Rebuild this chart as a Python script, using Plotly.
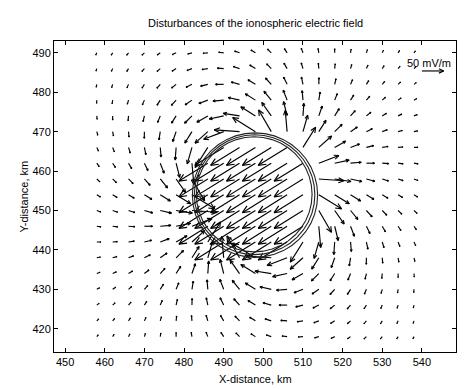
import numpy as np
import plotly.graph_objects as go

# ---- grid of observation points (km) ----
X_KM = [458, 462, 466, 470, 474, 478, 482, 486, 490, 494, 498,
        502, 506, 510, 514, 518, 522, 526, 530, 534, 538]
Y_KM = [490, 486, 482, 478, 474, 470, 466, 462, 458, 454,
        450, 446, 442, 438, 434, 430, 426, 422, 418]

# ---- field direction (degrees from +x), rows follow Y_KM, columns X_KM ----
I = -148  # uniform field inside the disturbed region
ANGLE_DEG = [
    [-116, -122, -129, -136, -145, -154, -164, -175, 173, 161, 148, 135, 123, 111, 100, 90, 81, 72, 65, 58, 52],
    [-109, -115, -122, -130, -138, -148, -159, -171, 176, 162, 148, 134, 120, 107, 95, 84, 74, 66, 58, 51, 45],
    [-102, -108, -114, -122, -131, -141, -153, -166, 180, 164, 148, 132, 116, 102, 89, 77, 67, 58, 50, 44, 38],
    [-94, -99, -106, -113, -122, -132, -145, -159, -175, 167, 148, 129, 111, 95, 81, 68, 58, 49, 42, 35, 30],
    [-85, -90, -96, -103, -112, -122, -135, -150, -168, 171, 148, 125, 104, 86, 71, 58, 48, 39, 32, 26, 21],
    [-76, -80, -85, -91, -99, -109, -122, -138, -159, 176, 148, 120, 95, 74, 58, 45, 35, 27, 21, 16, 12],
    [-65, -69, -73, -78, -85, -94, -106, -122, I, I, I, I, I, 58, 42, 30, 21, 14, 9, 5, 1],
    [-55, -57, -60, -64, -69, -76, -85, I, I, I, I, I, I, I, 21, 12, 5, 0, -4, -7, -9],
    [-43, -45, -46, -48, -51, -55, -60, I, I, I, I, I, I, I, -4, -9, -13, -16, -18, -19, -21],
    [-32, -32, -32, -32, -32, -32, -32, I, I, I, I, I, I, I, -32, -32, -32, -32, -32, -32, -32],
    [-21, -19, -18, -16, -13, -9, -4, I, I, I, I, I, I, I, -60, -55, -51, -48, -46, -45, -43],
    [-9, -7, -4, 0, 5, 12, 21, I, I, I, I, I, I, I, -85, -76, -69, -64, -60, -57, -55],
    [1, 5, 9, 14, 21, 30, 42, 58, I, I, I, I, I, -122, -106, -94, -85, -78, -73, -69, -65],
    [12, 16, 21, 27, 35, 45, 58, 74, 95, 120, 148, 176, -159, -138, -122, -109, -99, -91, -85, -80, -76],
    [21, 26, 32, 39, 48, 58, 71, 86, 104, 125, 148, 171, -168, -150, -135, -122, -112, -103, -96, -90, -85],
    [30, 35, 42, 49, 58, 68, 81, 95, 111, 129, 148, 167, -175, -159, -145, -132, -122, -113, -106, -99, -94],
    [38, 44, 50, 58, 67, 77, 89, 102, 116, 132, 148, 164, 180, -166, -153, -141, -131, -122, -114, -108, -102],
    [45, 51, 58, 66, 74, 84, 95, 107, 120, 134, 148, 162, 176, -171, -159, -148, -138, -130, -122, -115, -109],
    [52, 58, 65, 72, 81, 90, 100, 111, 123, 135, 148, 161, 173, -175, -164, -154, -145, -136, -129, -122, -116],
]

# ---- field magnitude (mV/m) ----
M = 78  # inside the disturbed region
FIELD_MV = [
    [5.4, 6.1, 6.8, 7.6, 8.4, 9.3, 10.1, 10.9, 11.6, 12.0, 12.1, 12.0, 11.6, 10.9, 10.1, 9.3, 8.4, 7.6, 6.8, 6.1, 5.4],
    [6.0, 6.8, 7.7, 8.7, 9.8, 11.1, 12.3, 13.5, 14.5, 15.1, 15.4, 15.1, 14.5, 13.5, 12.3, 11.1, 9.8, 8.7, 7.7, 6.8, 6.0],
    [6.6, 7.6, 8.7, 10.0, 11.6, 13.3, 15.1, 17.0, 18.6, 19.7, 20.1, 19.7, 18.6, 17.0, 15.1, 13.3, 11.6, 10.0, 8.7, 7.6, 6.6],
    [7.2, 8.4, 9.8, 11.6, 13.7, 16.1, 18.9, 21.9, 24.6, 26.6, 27.3, 26.6, 24.6, 21.9, 18.9, 16.1, 13.7, 11.6, 9.8, 8.4, 7.2],
    [7.9, 9.3, 11.1, 13.3, 16.1, 19.7, 24.0, 28.9, 33.9, 37.8, 39.4, 37.8, 33.9, 28.9, 24.0, 19.7, 16.1, 13.3, 11.1, 9.3, 7.9],
    [8.5, 10.1, 12.3, 15.1, 18.9, 24.0, 30.8, 39.4, 49.2, 57.9, 61.5, 57.9, 49.2, 39.4, 30.8, 24.0, 18.9, 15.1, 12.3, 10.1, 8.5],
    [9.0, 10.9, 13.5, 17.0, 21.9, 28.9, 39.4, 54.7, M, M, M, M, M, 54.7, 39.4, 28.9, 21.9, 17.0, 13.5, 10.9, 9.0],
    [9.5, 11.6, 14.5, 18.6, 24.6, 33.9, 49.2, M, M, M, M, M, M, M, 49.2, 33.9, 24.6, 18.6, 14.5, 11.6, 9.5],
    [9.7, 12.0, 15.1, 19.7, 26.6, 37.8, 57.9, M, M, M, M, M, M, M, 57.9, 37.8, 26.6, 19.7, 15.1, 12.0, 9.7],
    [9.8, 12.1, 15.4, 20.1, 27.3, 39.4, 61.5, M, M, M, M, M, M, M, 61.5, 39.4, 27.3, 20.1, 15.4, 12.1, 9.8],
    [9.7, 12.0, 15.1, 19.7, 26.6, 37.8, 57.9, M, M, M, M, M, M, M, 57.9, 37.8, 26.6, 19.7, 15.1, 12.0, 9.7],
    [9.5, 11.6, 14.5, 18.6, 24.6, 33.9, 49.2, M, M, M, M, M, M, M, 49.2, 33.9, 24.6, 18.6, 14.5, 11.6, 9.5],
    [9.0, 10.9, 13.5, 17.0, 21.9, 28.9, 39.4, 54.7, M, M, M, M, M, 54.7, 39.4, 28.9, 21.9, 17.0, 13.5, 10.9, 9.0],
    [8.5, 10.1, 12.3, 15.1, 18.9, 24.0, 30.8, 39.4, 49.2, 57.9, 61.5, 57.9, 49.2, 39.4, 30.8, 24.0, 18.9, 15.1, 12.3, 10.1, 8.5],
    [7.9, 9.3, 11.1, 13.3, 16.1, 19.7, 24.0, 28.9, 33.9, 37.8, 39.4, 37.8, 33.9, 28.9, 24.0, 19.7, 16.1, 13.3, 11.1, 9.3, 7.9],
    [7.2, 8.4, 9.8, 11.6, 13.7, 16.1, 18.9, 21.9, 24.6, 26.6, 27.3, 26.6, 24.6, 21.9, 18.9, 16.1, 13.7, 11.6, 9.8, 8.4, 7.2],
    [6.6, 7.6, 8.7, 10.0, 11.6, 13.3, 15.1, 17.0, 18.6, 19.7, 20.1, 19.7, 18.6, 17.0, 15.1, 13.3, 11.6, 10.0, 8.7, 7.6, 6.6],
    [6.0, 6.8, 7.7, 8.7, 9.8, 11.1, 12.3, 13.5, 14.5, 15.1, 15.4, 15.1, 14.5, 13.5, 12.3, 11.1, 9.8, 8.7, 7.7, 6.8, 6.0],
    [5.4, 6.1, 6.8, 7.6, 8.4, 9.3, 10.1, 10.9, 11.6, 12.0, 12.1, 12.0, 11.6, 10.9, 10.1, 9.3, 8.4, 7.6, 6.8, 6.1, 5.4],
]

# ---- boundary of the disturbed region (three contour rings) ----
RING_CENTERS = [(497.7, 454.1), (497.8, 454.0), (497.9, 453.9)]
RING_RADII = [14.6, 15.2, 15.8]

# ---- reference arrow ----
REF_MV = 50
REF_LABEL = "50 mV/m"
REF_POS = (540.0, 485.4)

KM_PER_MV = 0.11          # arrow length scale
HEAD_A, HEAD_B = 0.22, 0.45

TITLE = "Disturbances of the ionospheric electric field"
XLABEL = "X-distance, km"
YLABEL = "Y-distance, km"


def arrow(x0, y0, u, v):
    x1, y1 = x0 + u, y0 + v
    hx1 = x1 - HEAD_A * (u + HEAD_B * v)
    hy1 = y1 - HEAD_A * (v - HEAD_B * u)
    hx2 = x1 - HEAD_A * (u - HEAD_B * v)
    hy2 = y1 - HEAD_A * (v + HEAD_B * u)
    return [x0, x1, None, hx1, x1, hx2, None], [y0, y1, None, hy1, y1, hy2, None]


xs, ys = [], []
for r, yv in enumerate(Y_KM):
    for c, xv in enumerate(X_KM):
        a = np.deg2rad(ANGLE_DEG[r][c])
        L = FIELD_MV[r][c] * KM_PER_MV
        ax_, ay_ = arrow(xv, yv, L * np.cos(a), L * np.sin(a))
        xs += ax_
        ys += ay_

rx, ry = arrow(REF_POS[0], REF_POS[1], REF_MV * KM_PER_MV, 0.0)

fig = go.Figure()
fig.add_trace(go.Scatter(x=xs, y=ys, mode="lines",
                         line=dict(color="black", width=1.15),
                         hoverinfo="skip", showlegend=False))
fig.add_trace(go.Scatter(x=rx, y=ry, mode="lines",
                         line=dict(color="black", width=1.15),
                         hoverinfo="skip", showlegend=False))

t = np.linspace(0, 2 * np.pi, 41)
for (cx, cy), R in zip(RING_CENTERS, RING_RADII):
    fig.add_trace(go.Scatter(x=cx + R * np.cos(t), y=cy + R * np.sin(t),
                             mode="lines", line=dict(color="#222222", width=1.1),
                             hoverinfo="skip", showlegend=False))

font = dict(family="Liberation Sans, Arial, sans-serif", size=11, color="black")

axis_common = dict(showline=True, linecolor="black", linewidth=1, mirror="ticks",
                   ticks="inside", ticklen=4, tickcolor="black", showgrid=False,
                   zeroline=False, tickfont=font)

fig.update_layout(
    width=474, height=389, autosize=False,
    margin=dict(l=46, r=26, t=33, b=45),
    paper_bgcolor="white", plot_bgcolor="white",
    font=font,
    xaxis=dict(range=[447.2, 548.6], tickvals=list(range(450, 541, 10)), **axis_common),
    yaxis=dict(range=[414.1, 493.0], tickvals=list(range(420, 491, 10)), **axis_common),
    annotations=[
        dict(text=TITLE, xref="paper", yref="paper", x=0.5, y=1, yshift=18,
             showarrow=False, font=font, xanchor="center", yanchor="middle"),
        dict(text=XLABEL, xref="paper", yref="paper", x=0.5, y=0, yshift=-27,
             showarrow=False, font=font, xanchor="center", yanchor="middle"),
        dict(text=YLABEL, xref="paper", yref="paper", x=0, y=0.5, xshift=-31,
             showarrow=False, font=font, textangle=-90, xanchor="center", yanchor="middle"),
        dict(text=REF_LABEL, x=541.7, y=487.4, xref="x", yref="y",
             showarrow=False, font=font, xanchor="center", yanchor="middle"),
    ],
)

fig.write_html("out.html")
